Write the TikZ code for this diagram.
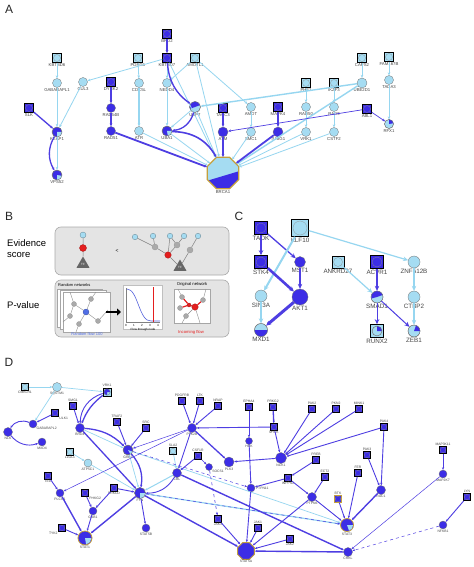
\documentclass[tikz,border=0pt]{standalone}
\usepackage{fontspec}
\setmainfont{Liberation Sans}
\usetikzlibrary{arrows.meta,shapes.geometric,calc}
\definecolor{dk}{RGB}{60,45,230}
\definecolor{lt}{RGB}{165,220,242}
\definecolor{elc}{RGB}{150,214,240}
\definecolor{edc}{RGB}{78,62,226}
\definecolor{gold}{RGB}{196,160,60}
\definecolor{lbc}{RGB}{70,70,70}
\definecolor{boxg}{RGB}{228,228,228}
\definecolor{boxb}{RGB}{170,170,170}
\definecolor{fgray}{RGB}{170,170,170}
\definecolor{fred}{RGB}{228,30,30}
\definecolor{fblue}{RGB}{80,110,230}
\newcommand\pie[5]{\fill[#5] (#1) -- ++(#3:#2) arc[start angle=#3, end angle=#4, radius=#2] -- cycle; \draw[black!55, line width=0.3bp] (#1) circle[radius=#2];}
\begin{document}
\begin{tikzpicture}[x=1bp,y=-1bp,
  lbA/.style={font=\fontsize{4.3}{4.5}\selectfont, text=lbc, inner sep=0.2bp},
  lbC/.style={font=\fontsize{6.3}{6.5}\selectfont, text=lbc, inner sep=0.3bp},
  lbD/.style={font=\fontsize{3.4}{3.6}\selectfont, text=lbc, inner sep=0.2bp},
  label distance=0.4bp,
  ci/.style={circle, draw=black!55, line width=0.3bp, inner sep=0, minimum size=#1},
  sq/.style={rectangle, draw=black, line width=0.6bp, inner sep=0, minimum size=#1},
  inc/.style={path picture={\draw[black!45, line width=0.25bp] (path picture bounding box.center) circle[radius=#1];}},
  lw/.style={line width=#1},
  eL/.style={draw=elc, line width=0.8bp, -{Stealth[length=3bp,width=2.6bp]}},
  eD/.style={draw=edc, line width=1.1bp, -{Stealth[length=3bp,width=2.6bp]}},
  cL/.style={draw=elc, line width=1.2bp, -{Stealth[length=5bp,width=4.5bp]}},
  cD/.style={draw=edc, line width=1.3bp, -{Stealth[length=5bp,width=4.5bp]}},
  dL/.style={draw=elc, line width=0.7bp, -{Stealth[length=2.6bp,width=2.2bp]}},
  dD/.style={draw=edc, line width=0.9bp, -{Stealth[length=2.6bp,width=2.2bp]}},
  letter/.style={font=\fontsize{12}{12}\selectfont, text=black!85}
]
\useasboundingbox (0,0) rectangle (474,567);
\fill[white] (0,0) rectangle (474,567);

% ================= PANEL LETTERS =================
\node[letter] (LA) at (9,9) {A};
\node[letter] (LB) at (9,216) {B};
\node[letter] (LC) at (239,216) {C};
\node[letter] (LD) at (9,362) {D};

% ================= PANEL A =================
\node[sq=9bp, fill=dk, inc=3.5bp, label={[lbA]below:BRD2}] (aBRD2) at (167,34) {};
\node[sq=9bp, fill=dk, inc=3.5bp, label={[lbA]below:KBTBD7}] (aKB7) at (167,58) {};
\node[sq=9bp, fill=lt, inc=3.5bp, label={[lbA]below:KBTBD6}] (aKB6) at (57,58) {};
\node[sq=9bp, fill=lt, inc=3.5bp, label={[lbA]below:PDRG1}] (aPDRG) at (138,58) {};
\node[sq=9bp, fill=lt, inc=3.5bp, label={[lbA]below:AMOTL1}] (aAMOTL) at (195,58) {};
\node[sq=9bp, fill=dk, inc=3.5bp, label={[lbA]below:DYRK2}] (aDYRK) at (111,82) {};
\node[sq=9bp, fill=dk, inc=3.5bp, label={[lbA]below:SLK}] (aSLK) at (29,108) {};
\node[sq=9bp, fill=dk, inc=3.5bp, label={[lbA]below:TACC3}] (aTACC) at (223,108) {};
\node[sq=9bp, fill=lt, inc=3.5bp, label={[lbA]below:CAPS2}] (aCAPS) at (362,58) {};
\node[sq=9bp, fill=lt, inc=3.5bp, label={[lbA]below:FAM167B}] (aFAM) at (389,57) {};
\node[sq=9bp, fill=lt, inc=3.5bp, label={[lbA]below:PHF1}] (aPHF) at (306,83) {};
\node[sq=9bp, fill=lt, inc=3.5bp, label={[lbA]below:IKZF3}] (aIKZF) at (334,83) {};
\node[sq=9bp, fill=dk, inc=3.5bp, label={[lbA]below:MAPK4}] (aMAPK) at (278,107) {};
\node[sq=9bp, fill=dk, inc=3.5bp, label={[lbA]below:ABL1}] (aABL) at (367,109) {};

\node[ci=9bp, fill=lt, label={[lbA]below:GABARAPL1}] (aGAB) at (57,83) {};
\node[ci=9bp, fill=lt, label={[lbA]below:CUL3}] (aCUL3) at (83,82) {};
\node[ci=9bp, fill=lt, label={[lbA]below:CDC5L}] (aCDC) at (139,83) {};
\node[ci=9bp, fill=lt, label={[lbA]below:NEDD4}] (aNEDD) at (167,83) {};
\node[ci=10bp, fill=lt, label={[lbA]below:UBE2D1}] (aUBE) at (362,83) {};
\node[ci=9bp, fill=lt, label={[lbA]below:TADA3}] (aTADA) at (389,80) {};
\node[ci=9bp, fill=dk, label={[lbA]below:RAD54B}] (aRAD54) at (111,108) {};
\node[ci=11bp, fill=lt, label={[lbA]below:USP7}] (aUSP) at (195,107) {};
\pie{aUSP.center}{5.5bp}{-340}{-160}{dk}
\node[ci=9bp, fill=lt, label={[lbA]below:AMOT}] (aAMOT) at (251,107) {};
\node[ci=9bp, fill=lt, label={[lbA]below:RAD50}] (aRAD50) at (306,107) {};
\node[ci=9bp, fill=lt, label={[lbA]below:RAD9}] (aRAD9) at (334,107) {};
\node[ci=10bp, fill=dk, label={[lbA]below:KEAP1}] (aKEAP) at (57,132) {};
\pie{aKEAP.center}{5bp}{-90}{0}{lt}
\node[ci=9bp, fill=dk, label={[lbA]below:RAD51}] (aRAD51) at (111,131) {};
\node[ci=9bp, fill=lt, label={[lbA]below:ATR}] (aATR) at (139,131) {};
\node[ci=10bp, fill=dk, label={[lbA]below:UBA1}] (aUBA) at (167,131) {};
\pie{aUBA.center}{5bp}{-80}{0}{lt}
\node[ci=10bp, fill=dk, label={[lbA]below:ATM}] (aATM) at (223,132) {};
\node[ci=9bp, fill=lt, label={[lbA]below:SMC1}] (aSMC) at (251,132) {};
\node[ci=10bp, fill=dk, label={[lbA]below:TUBG1}] (aTUBG) at (278,132) {};
\node[ci=9bp, fill=lt, label={[lbA]below:VRK1}] (aVRK) at (306,132) {};
\node[ci=9bp, fill=lt, label={[lbA]below:CSTF2}] (aCSTF) at (334,132) {};
\node[ci=9bp, fill=lt, label={[lbA]below:RFX1}] (aRFX) at (389,124) {};
\pie{aRFX.center}{4.5bp}{10}{90}{dk}
\node[ci=10bp, fill=dk, label={[lbA]below:VPS52}] (aVPS) at (57,175) {};
\pie{aVPS.center}{5bp}{-90}{-10}{lt}

\node[regular polygon, regular polygon sides=8, minimum size=34bp, fill=lt, inner sep=0] (aBRCA) at (223,173) {};
\begin{scope}
\clip (aBRCA.corner 1) -- (aBRCA.corner 2) -- (aBRCA.corner 3) -- (aBRCA.corner 4) -- (aBRCA.corner 5) -- (aBRCA.corner 6) -- (aBRCA.corner 7) -- (aBRCA.corner 8) -- cycle;
\fill[dk] ($(aBRCA.center)+(-20,9)$) -- ($(aBRCA.center)+(20,-3)$) -- ($(aBRCA.center)+(20,20)$) -- ($(aBRCA.center)+(-20,20)$) -- cycle;
\end{scope}
\node[regular polygon, regular polygon sides=8, minimum size=34bp, draw=gold, line width=1.3bp, inner sep=0, label={[lbA]below:BRCA1}] (aBRCAb) at (223,173) {};

% light edges A
\draw[eL] (aKB6) -- (aGAB);
\draw[eL] (aGAB) -- (aKEAP);
\draw[eL] (aCUL3) -- (aKEAP);
\draw[eL] (aKEAP) -- (aVPS);
\draw[eL] (aPDRG) -- (aCDC);
\draw[eL, lw=1.1bp] (aCDC) -- (aATR);
\draw[eL] (aKB7) -- (aCUL3);
\draw[eL] (aKB7) -- (aNEDD);
\draw[eL] (aKB7) -- (aBRCA);
\draw[eL] (aAMOTL) -- (aNEDD);
\draw[eL] (aAMOTL) -- (aBRCA);
\draw[eL] (aAMOTL) -- (aAMOT);
\draw[eL] (aNEDD) -- (aUBA);
\draw[eL] (aUSP) -- (aUBA);
\draw[eL] (aUSP) -- (aBRCA);
\draw[eL] (aATR) -- (aBRCA);
\draw[eL] (aUBA) -- (aBRCA);
\draw[eL] (aAMOT) -- (aSMC);
\draw[eL] (aSMC) -- (aBRCA);
\draw[eL] (aPHF) -- (aRAD50);
\draw[eL] (aRAD50) -- (aVRK);
\draw[eL] (aIKZF) -- (aRAD9);
\draw[eL] (aRAD9) -- (aCSTF);
\draw[eL] (aCSTF) -- (aBRCA);
\draw[eL] (aVRK) -- (aBRCA);
\draw[eL, lw=1.4bp] (aUBE) -- (aUSP);
\draw[eL, lw=1.4bp] (aUBE) -- (aBRCA);
\draw[eL] (aCAPS) -- (aUBE);
\draw[eL] (aFAM) -- (aTADA);
\draw[eL] (aTADA) -- (aRFX);
% dark edges A
\draw[eD, lw=1.4bp] (aBRD2) -- (aKB7);
\draw[eD, lw=1.4bp] (aKB7) to[bend right=25] (aUSP);
\draw[eD, lw=1.3bp] (aSLK) -- (aKEAP);
\draw[eD, lw=1.3bp] (aKEAP) to[bend right=30] (aVPS);
\draw[eD, lw=1.5bp] (aDYRK) -- (aRAD54);
\draw[eD, lw=1.5bp] (aRAD54) -- (aRAD51);
\draw[eD, lw=1.8bp] (aRAD51) -- (aBRCA);
\draw[eD, lw=1.3bp] (aUSP) to[bend left=35] (aUBA);
\draw[eD, lw=1.6bp] (aUBA) to[bend left=30] (aBRCA);
\draw[eD, lw=1.4bp] (aTACC) -- (aATM);
\draw[eD, lw=1.8bp] (aATM) -- (aBRCA);
\draw[eD, lw=1.3bp] (aMAPK) -- (aTUBG);
\draw[eD, lw=1.8bp] (aTUBG) -- (aBRCA);
\draw[eD, lw=0.7bp] (aABL) -- (aATM);
\draw[eD, lw=0.7bp] (aABL) -- (aRFX);

% ================= PANEL B =================
\draw[rounded corners=6bp, fill=boxg, draw=boxb, line width=0.6bp] (55,227) rectangle (229,275);
\draw[rounded corners=6bp, fill=boxg, draw=boxb, line width=0.6bp] (55,280) rectangle (229,337);
\node[anchor=west, font=\fontsize{9.5}{11}\selectfont, align=left, inner sep=0] (bEv) at (7,249) {Evidence\\score};
\node[anchor=west, font=\fontsize{9.5}{11}\selectfont, inner sep=0] (bPv) at (7,305) {P-value};
% left tree
\node[ci=6bp, fill=lt, draw=lt!60!black] (b1) at (83,235) {};
\node[ci=7bp, fill=fred, draw=fred!70!black] (b2) at (83,248) {};
\node[regular polygon, regular polygon sides=3, minimum size=15bp, fill=black!60, inner sep=0, text=white, font=\fontsize{3}{3}\selectfont] (bT1) at (83,264) {TF};
\draw[black!50, line width=0.5bp] (b1) -- (b2) -- (bT1);
\node[font=\fontsize{5}{5}\selectfont] (blt) at (117,251) {<};
% right tree
\node[ci=5.5bp, fill=lt, draw=lt!60!black] (r1) at (135,237) {};
\node[ci=5.5bp, fill=lt, draw=lt!60!black] (r2) at (153,236) {};
\node[ci=5.5bp, fill=lt, draw=lt!60!black] (r3) at (170,236) {};
\node[ci=5.5bp, fill=lt, draw=lt!60!black] (r4) at (184,236) {};
\node[ci=5.5bp, fill=lt, draw=lt!60!black] (r5) at (198,236) {};
\node[ci=6bp, fill=fgray, draw=black!40] (g1) at (155,247) {};
\node[ci=6bp, fill=fgray, draw=black!40] (g2) at (177,245) {};
\node[ci=6bp, fill=fgray, draw=black!40] (g3) at (190,250) {};
\node[ci=6.5bp, fill=fred, draw=fred!70!black] (rd) at (168,255) {};
\node[regular polygon, regular polygon sides=3, minimum size=15bp, fill=black!60, inner sep=0, text=white, font=\fontsize{3}{3}\selectfont] (bT2) at (180,267) {TF};
\draw[black!50, line width=0.5bp] (r1) -- (g1) (r2) -- (g1) (g1) -- (rd) (r3) -- (g2) (r4) -- (g2) (g2) -- (rd) (r5) -- (g3) (g3) -- (bT2) (rd) -- (bT2) (r3) -- (rd);
% random networks
\node[anchor=west, font=\fontsize{4}{4}\selectfont, inner sep=0] (bRN) at (58,285) {Random networks};
\draw[fill=white, draw=black!35, line width=0.4bp] (57,289) rectangle (102,327);
\draw[fill=white, draw=black!35, line width=0.4bp] (60,290.5) rectangle (106,329.5);
\draw[fill=white, draw=black!35, line width=0.4bp] (63,292) rectangle (110,332);
\node[ci=5bp, fill=fgray, draw=black!40] (n1) at (74,304) {};
\node[ci=5bp, fill=fgray, draw=black!40] (n2) at (91,299) {};
\node[ci=5bp, fill=fgray, draw=black!40] (n3) at (70,316) {};
\node[ci=5bp, fill=fgray, draw=black!40] (n4) at (79,324) {};
\node[ci=5bp, fill=fgray, draw=black!40] (n5) at (98,321) {};
\node[ci=6bp, fill=fblue, draw=fblue!70!black] (nb) at (86,312) {};
\draw[black!45, line width=0.4bp] (n1) -- (nb) (n2) -- (nb) (n3) -- (n1) (n4) -- (nb) (n5) -- (nb) (n1) -- (70,292) (n2) -- (96,292) (n3) -- (63,322) (n4) -- (76,332) (n5) -- (108,310);
\node[font=\fontsize{4}{4}\selectfont, text=fblue, inner sep=0] (bRF) at (87,334) {Random flow 100};
\draw[-{Triangle[length=4bp,width=7bp]}, line width=2.6bp] (106,312) -- (121,312);
% plot
\draw[fill=white, draw=black!25, line width=0.4bp] (123,285) rectangle (162,329);
\draw[black!50, line width=0.3bp] (126,288) -- (126,322) -- (160,322);
\draw[fblue!90!violet, line width=0.6bp] (127,289) .. controls (138,289) and (139,322) .. (151,321) -- (160,321);
\draw[fred, line width=0.7bp] (153,287) -- (153,322);
\foreach \t/\xx in {0/126,1/134,2/142,3/150,4/158} { \node[font=\fontsize{3}{3}\selectfont, inner sep=0] at (\xx,325.5) {\t}; }
\node[font=\fontsize{3}{3}\selectfont, inner sep=0] (bFT) at (143,330) {Flow through node};
% original network
\node[font=\fontsize{4.2}{4.2}\selectfont, inner sep=0] (bON) at (192,284.5) {Original network};
\draw[fill=white, draw=black!35, line width=0.4bp] (174,289) rectangle (210,323);
\node[ci=5bp, fill=fgray, draw=black!40] (o1) at (182,297) {};
\node[ci=5bp, fill=fgray, draw=black!40] (o2) at (180,308) {};
\node[ci=5bp, fill=fgray, draw=black!40] (o3) at (186,316) {};
\node[ci=5bp, fill=fgray, draw=black!40] (o4) at (203,300) {};
\node[ci=6.5bp, fill=fred, draw=fred!70!black] (oR) at (195,307) {};
\node[ci=4bp, fill=fred, draw=fred!70!black] (oR2) at (189,305) {};
\draw[fred, line width=1.2bp] (o1) -- (oR2) (o2) -- (oR2) (oR2) -- (oR) (o4) -- (oR);
\draw[black!45, line width=0.4bp] (o3) -- (oR) (oR) -- (200,323) (o1) -- (178,289) (o4) -- (206,289) (o3) -- (182,323);
\node[font=\fontsize{4.2}{4.2}\selectfont, text=fred, inner sep=0] (bIF) at (191,332) {Incoming flow};

% ================= PANEL C =================
\node[sq=13bp, fill=dk, inc=5bp, label={[lbC]below:TAOK}] (cTAOK) at (261,228) {};
\node[sq=17bp, fill=lt, inc=7bp, label={[lbC]below:KLF10}] (cKLF) at (300,228) {};
\node[sq=13bp, fill=dk, inc=5bp, label={[lbC]below:STK4}] (cSTK) at (261,262) {};
\node[ci=11bp, fill=dk, label={[lbC]below:MST1}] (cMST) at (300,262) {};
\node[sq=12bp, fill=lt, inc=4.5bp, label={[lbC]below:ANKRD27}] (cANK) at (338,262) {};
\node[sq=13bp, fill=dk, inc=5bp, label={[lbC]below:ACVR1}] (cACV) at (377,262) {};
\node[ci=12bp, fill=lt, label={[lbC]below:ZNF512B}] (cZNF) at (414,262) {};
\node[ci=12bp, fill=lt, label={[lbC]below:SIN3A}] (cSIN) at (261,296) {};
\node[ci=16bp, fill=dk, label={[lbC]below:AKT1}] (cAKT) at (300,297) {};
\node[ci=12bp, fill=lt, label={[lbC]below:SMAD1}] (cSMAD) at (377,297) {};
\pie{cSMAD.center}{6bp}{-340}{-165}{dk}
\node[ci=12bp, fill=lt, label={[lbC]below:CTBP2}] (cCTBP) at (414,297) {};
\node[ci=13bp, fill=lt, label={[lbC]below:MXD1}] (cMXD) at (261,330) {};
\begin{scope}
\clip (cMXD.center) circle[radius=6.5bp];
\fill[dk] ($(cMXD.center)+(-7,-0.5)$) rectangle ($(cMXD.center)+(7,7)$);
\end{scope}
\draw[black!55, line width=0.3bp] (cMXD.center) circle[radius=6.5bp];
\node[sq=13bp, fill=lt, inc=5bp, label={[lbC]below:RUNX2}] (cRUNX) at (377,331) {};
\pie{cRUNX.center}{5bp}{0}{90}{dk}
\node[ci=12bp, fill=lt, label={[lbC]below:ZEB1}] (cZEB) at (414,331) {};
\pie{cZEB.center}{6bp}{0}{70}{dk}

\draw[cD] (cTAOK) -- (cSTK);
\draw[cD] (cTAOK) -- (cMST);
\draw[cL, lw=2bp] (cKLF) -- (cSIN);
\draw[cL] (cKLF) -- (cZNF);
\draw[cD, lw=2.6bp] (cSTK) -- (cAKT);
\draw[cD] (cMST) -- (cAKT);
\draw[cD, lw=3bp] (cAKT) -- (cMXD);
\draw[cL, lw=2.2bp] (cSIN) -- (cMXD);
\draw[cL] (cANK) -- (cSMAD);
\draw[cD, lw=1.6bp] (cACV) -- (cSMAD);
\draw[cD, lw=1bp] (cSMAD) -- (cRUNX);
\draw[cD, lw=1bp] (cSMAD) -- (cZEB);
\draw[cL] (cZNF) -- (cCTBP);
\draw[cL, lw=1.6bp] (cCTBP) -- (cZEB);

% ================= PANEL D =================
\node[sq=7bp, fill=lt, inc=2.7bp, label={[lbD]below:CMKLR1}] (dCMK) at (25,387) {};
\node[ci=9bp, fill=lt, label={[lbD]below:SQSTM1}] (dSQS) at (57,387) {};
\node[sq=8bp, fill=lt, label={[lbD]above:VRK1}] (dVRK) at (107,392) {};
\pie{dVRK.center}{3.2bp}{-360}{-90}{dk}
\node[sq=7bp, fill=dk, inc=2.7bp, label={[lbD]below right:ULK1}] (dULK) at (55,413) {};
\node[ci=8bp, fill=dk, label={[lbD]below right:GABARAPL2}] (dGAB) at (33,424) {};
\node[ci=9bp, fill=dk, label={[lbD]below:NLK}] (dNLK) at (8,432) {};
\node[ci=8bp, fill=dk, label={[lbD]below:MXD4}] (dMXD) at (42,442) {};
\node[sq=7bp, fill=dk, inc=2.7bp, label={[lbD]above:SMG1}] (dSMG) at (73,406) {};
\node[ci=9bp, fill=dk, label={[lbD]below:BRD4}] (dBRD) at (80,428) {};
\node[sq=7bp, fill=dk, inc=2.7bp, label={[lbD]above:TRAF2}] (dTRAF) at (117,422) {};
\node[sq=7bp, fill=dk, inc=2.7bp, label={[lbD]above:SRC}] (dSRC) at (146,428) {};
\node[ci=10bp, fill=dk, label={[lbD]below:GRB2}] (dGRB) at (128,450) {};
\pie{dGRB.center}{5bp}{-60}{-20}{lt}
\node[sq=7bp, fill=lt, inc=2.7bp, label={[lbD]below:LLGL1}] (dLLG) at (70,452) {};
\node[ci=8bp, fill=lt, label={[lbD]below:ATP5C1}] (dATP) at (88,463) {};
\node[sq=7bp, fill=dk, inc=2.7bp, label={[lbD]below:TEC}] (dTEC) at (48,476) {};
\node[ci=8bp, fill=dk, label={[lbD]below:PLCG1}] (dPLC) at (60,493) {};
\node[sq=7bp, fill=dk, inc=2.7bp, label={[lbD]below right:PHKG2}] (dPHK) at (85,493) {};
\node[sq=7bp, fill=dk, inc=2.7bp, label={[lbD]below:PRKCD}] (dPRK) at (114,488) {};
\node[ci=8bp, fill=dk, label={[lbD]below:GAB1}] (dGAB1) at (93,511) {};
\node[ci=11bp, fill=dk, label={[lbD]below:FYN}] (dFYN) at (140,493) {};
\pie{dFYN.center}{5.5bp}{-90}{0}{lt}
\node[ci=8bp, fill=dk, label={[lbD]below:STAT5B}] (dS5B) at (146,528) {};
\node[sq=7bp, fill=dk, inc=2.7bp, label={[lbD]below left:TYK2}] (dTYK) at (62,528) {};
\node[ci=14bp, fill=dk, draw=gold, line width=0.8bp, label={[lbD]below:STAT1}] (dS1) at (85,538) {};
\fill[lt] (dS1.center) -- ++(-80:6.4bp) arc[start angle=-80, end angle=0, radius=6.4bp] -- cycle;

\node[sq=7bp, fill=dk, inc=2.7bp, label={[lbD]above:PDGFRB}] (dPDG) at (182,401) {};
\node[sq=7bp, fill=dk, inc=2.7bp, label={[lbD]above:LTK}] (dLTK) at (200,401) {};
\node[sq=7bp, fill=dk, inc=2.7bp, label={[lbD]above:NRAP}] (dNRAP) at (218,406) {};
\node[ci=9bp, fill=dk, label={[lbD]below:PTK2B}] (dPTK) at (192,428) {};
\node[sq=7bp, fill=lt, inc=2.7bp, label={[lbD]above:SLA2}] (dSLA) at (173,451) {};
\node[sq=7bp, fill=dk, inc=2.7bp, label={[lbD]above:CSF1R}] (dCSF) at (198,456) {};
\node[ci=7bp, fill=dk, label={[lbD]below right:SOCS1}] (dSOCS) at (209,467) {};
\node[ci=10bp, fill=dk, label={[lbD]below:PLK3}] (dPLK) at (229,462) {};
\node[ci=9bp, fill=dk, label={[lbD]below:CBL}] (dCBL) at (177,473) {};
\node[sq=7bp, fill=dk, inc=2.7bp, label={[lbD]above:EPHA4}] (dEPH) at (249,407) {};
\node[sq=7bp, fill=dk, inc=2.7bp, label={[lbD]above:PRKG2}] (dPRKG) at (273,407) {};
\node[sq=7bp, fill=dk, inc=2.7bp, label={[lbD]below:MYLK}] (dMYLK) at (274,427) {};
\node[ci=7bp, fill=dk, label={[lbD]below:HCK}] (dHCK) at (249,441) {};
\node[ci=11bp, fill=dk, label={[lbD]below:NCK1}] (dNCK) at (281,458) {};
\node[ci=8bp, fill=dk, label={[lbD]right:PTPN11}] (dP11) at (251,488) {};
\node[sq=7bp, fill=dk, inc=2.7bp, label={[lbD]below:INPP5D}] (dINP) at (288,478) {};
\node[ci=9bp, fill=dk, label={[lbD]below:PTPN6}] (dP6) at (312,497) {};
\node[sq=7bp, fill=dk, inc=2.7bp, label={[lbD]above:PAK2}] (dPAK2) at (312,409) {};
\node[sq=7bp, fill=dk, inc=2.7bp, label={[lbD]above:PKN2}] (dPKN) at (336,409) {};
\node[sq=7bp, fill=dk, inc=2.7bp, label={[lbD]above:MINK1}] (dMINK) at (359,409) {};
\node[sq=7bp, fill=dk, inc=2.7bp, label={[lbD]above:PAK4}] (dPAK4) at (384,427) {};
\node[sq=7bp, fill=dk, inc=2.7bp, label={[lbD]above:PAK3}] (dPAK3) at (367,455) {};
\node[sq=7bp, fill=dk, inc=2.7bp, label={[lbD]above:PREB}] (dPREB) at (316,460) {};
\node[sq=7bp, fill=dk, inc=2.7bp, label={[lbD]above:ECT2}] (dECT) at (325,477) {};
\node[sq=7bp, fill=dk, inc=2.7bp, label={[lbD]above:FER}] (dFER) at (358,473) {};
\node[ci=9bp, fill=dk, label={[lbD]below:RAC1}] (dRAC) at (381,490) {};
\node[sq=7bp, fill=dk, draw=gold, inc=2.7bp, label={[lbD]above:BTK}] (dBTK) at (338,499) {};
\node[ci=13bp, fill=dk, draw=gold, line width=0.8bp, label={[lbD]below:STAT3}] (dS3) at (347,525) {};
\fill[lt] (dS3.center) -- ++(-70:6bp) arc[start angle=-70, end angle=0, radius=6bp] -- cycle;
\node[sq=7bp, fill=dk, inc=2.7bp, label={[lbD]above:MAP3K11}] (dM3K) at (443,450) {};
\node[ci=8bp, fill=dk, label={[lbD]below:MAP2K7}] (dM2K) at (443,474) {};
\node[sq=7bp, fill=dk, inc=2.7bp, label={[lbD]above:LYN}] (dLYN) at (467,497) {};
\node[ci=8bp, fill=dk, label={[lbD]below:NFKB1}] (dNFK) at (443,525) {};
\node[ci=9bp, fill=dk, label={[lbD]below:CRKL}] (dCRKL) at (348,552) {};
\node[sq=7bp, fill=dk, inc=2.7bp, label={[lbD]below:JAK3}] (dJAK3) at (218,519) {};
\node[sq=7bp, fill=dk, inc=2.7bp, label={[lbD]above:JAK1}] (dJAK1) at (258,528) {};
\node[sq=7bp, fill=dk, inc=2.7bp, label={[lbD]below:JAK2}] (dJAK2) at (290,539) {};
\node[regular polygon, regular polygon sides=8, minimum size=18bp, fill=dk, draw=gold, line width=0.9bp, inner sep=0, label={[lbD]below:STAT5A}] (dS5A) at (246,551) {};

% edges D light
\draw[dL] (dCMK) -- (dSQS);
\draw[dL] (dSQS) -- (dVRK);
\draw[dL] (dSQS) -- (dGAB);
\draw[dL] (dBRD) -- (dGRB);
\draw[dL] (dLLG) -- (dATP);
\draw[dL] (dATP) -- (dFYN);
\draw[dL] (dGRB) -- (dFYN);
\draw[dL, lw=1.2bp] (dFYN) -- (dS3);
\draw[dL] (dGRB) -- (dS3);
\draw[dL, lw=1bp] (dCBL) -- (dFYN);
\draw[dL] (dSLA) -- (dCBL);
% edges D dark
\draw[dD] (dULK) -- (dGAB);
\draw[dD] (dGAB) to[bend right=40] (dNLK);
\draw[dD] (dNLK) to[bend right=35] (dMXD);
\draw[dD, lw=1.3bp] (dVRK) to[bend right=15] (dBRD);
\draw[dD] (dVRK) to[bend right=35] (dBRD);
\draw[dD] (dSMG) -- (dBRD);
\draw[dD, lw=1.3bp] (dBRD) to[bend left=20] (dGRB);
\draw[dD, lw=1.3bp] (dBRD) -- (dFYN);
\draw[dD] (dTRAF) -- (dGRB);
\draw[dD] (dSRC) -- (dGRB);
\draw[dD, lw=1.3bp] (dGRB) to[bend left=25] (dFYN);
\draw[dD, lw=0.5bp, dashed] (dGRB) -- (dP11);
\draw[dD, lw=0.5bp] (dPTK) -- (dPLC);
\draw[dD, lw=0.5bp] (dPTK) -- (dGRB);
\draw[dD] (dTEC) -- (dPLC);
\draw[dD, lw=1.4bp] (dPLC) -- (dS1);
\draw[dD] (dPHK) -- (dGAB1);
\draw[dD] (dPRK) -- (dGAB1);
\draw[dD] (dPRK) -- (dFYN);
\draw[dD] (dGAB1) -- (dS1);
\draw[dD] (dTYK) -- (dS1);
\draw[dD, lw=1.4bp] (dFYN) -- (dS1);
\draw[dD] (dFYN) -- (dS5B);
\draw[dD, lw=1.4bp] (dFYN) -- (dS5A);
\draw[dD, lw=0.5bp, dashed] (dFYN) -- (dS3);
\draw[dD] (dCBL) to[bend left=30] (dFYN);
\draw[dD] (dCSF) -- (dCBL);
\draw[dD, lw=0.5bp] (dCSF) -- (dSOCS);
\draw[dD, lw=0.6bp, dashed] (dSOCS) -- (dJAK3);
\draw[dD] (dPDG) -- (dPTK);
\draw[dD] (dLTK) -- (dPTK);
\draw[dD] (dNRAP) -- (dPTK);
\draw[dD] (dMYLK) -- (dPTK);
\draw[dD] (dPTK) -- (dCBL);
\draw[dD, lw=1.3bp] (dPTK) -- (dPLK);
\draw[dD] (dEPH) -- (dHCK);
\draw[dD] (dHCK) -- (dP11);
\draw[dD, lw=1.3bp] (dPRKG) -- (dMYLK);
\draw[dD] (dMYLK) -- (dNCK);
\draw[dD] (dNCK) -- (dPLK);
\draw[dD] (dPAK2) -- (dNCK);
\draw[dD] (dPKN) -- (dNCK);
\draw[dD] (dMINK) -- (dNCK);
\draw[dD] (dPAK4) -- (dNCK);
\draw[dD] (dPREB) -- (dINP);
\draw[dD] (dINP) -- (dP11);
\draw[dD] (dINP) -- (dP6);
\draw[dD] (dECT) -- (dP6);
\draw[dD] (dP6) -- (dS3);
\draw[dD] (dP6) -- (dS5A);
\draw[dD] (dP11) -- (dS5A);
\draw[dD] (dJAK3) -- (dS5A);
\draw[dD] (dJAK1) -- (dS5A);
\draw[dD] (dJAK2) -- (dS5A);
\draw[dD, lw=1.4bp] (dCRKL) -- (dS5A);
\draw[dD, lw=1.4bp] (dCBL) -- (dCRKL);
\draw[dD] (dBTK) -- (dS3);
\draw[dD] (dFER) -- (dS3);
\draw[dD, lw=1.4bp] (dRAC) -- (dS3);
\draw[dD] (dPAK3) -- (dRAC);
\draw[dD] (dPAK4) -- (dRAC);
\draw[dD] (dM3K) -- (dM2K);
\draw[dD, lw=0.5bp] (dM2K) -- (dCRKL);
\draw[dD] (dLYN) -- (dNFK);
\draw[dD, lw=0.5bp, dashed] (dNFK) -- (dCRKL);
\end{tikzpicture}
\end{document}
